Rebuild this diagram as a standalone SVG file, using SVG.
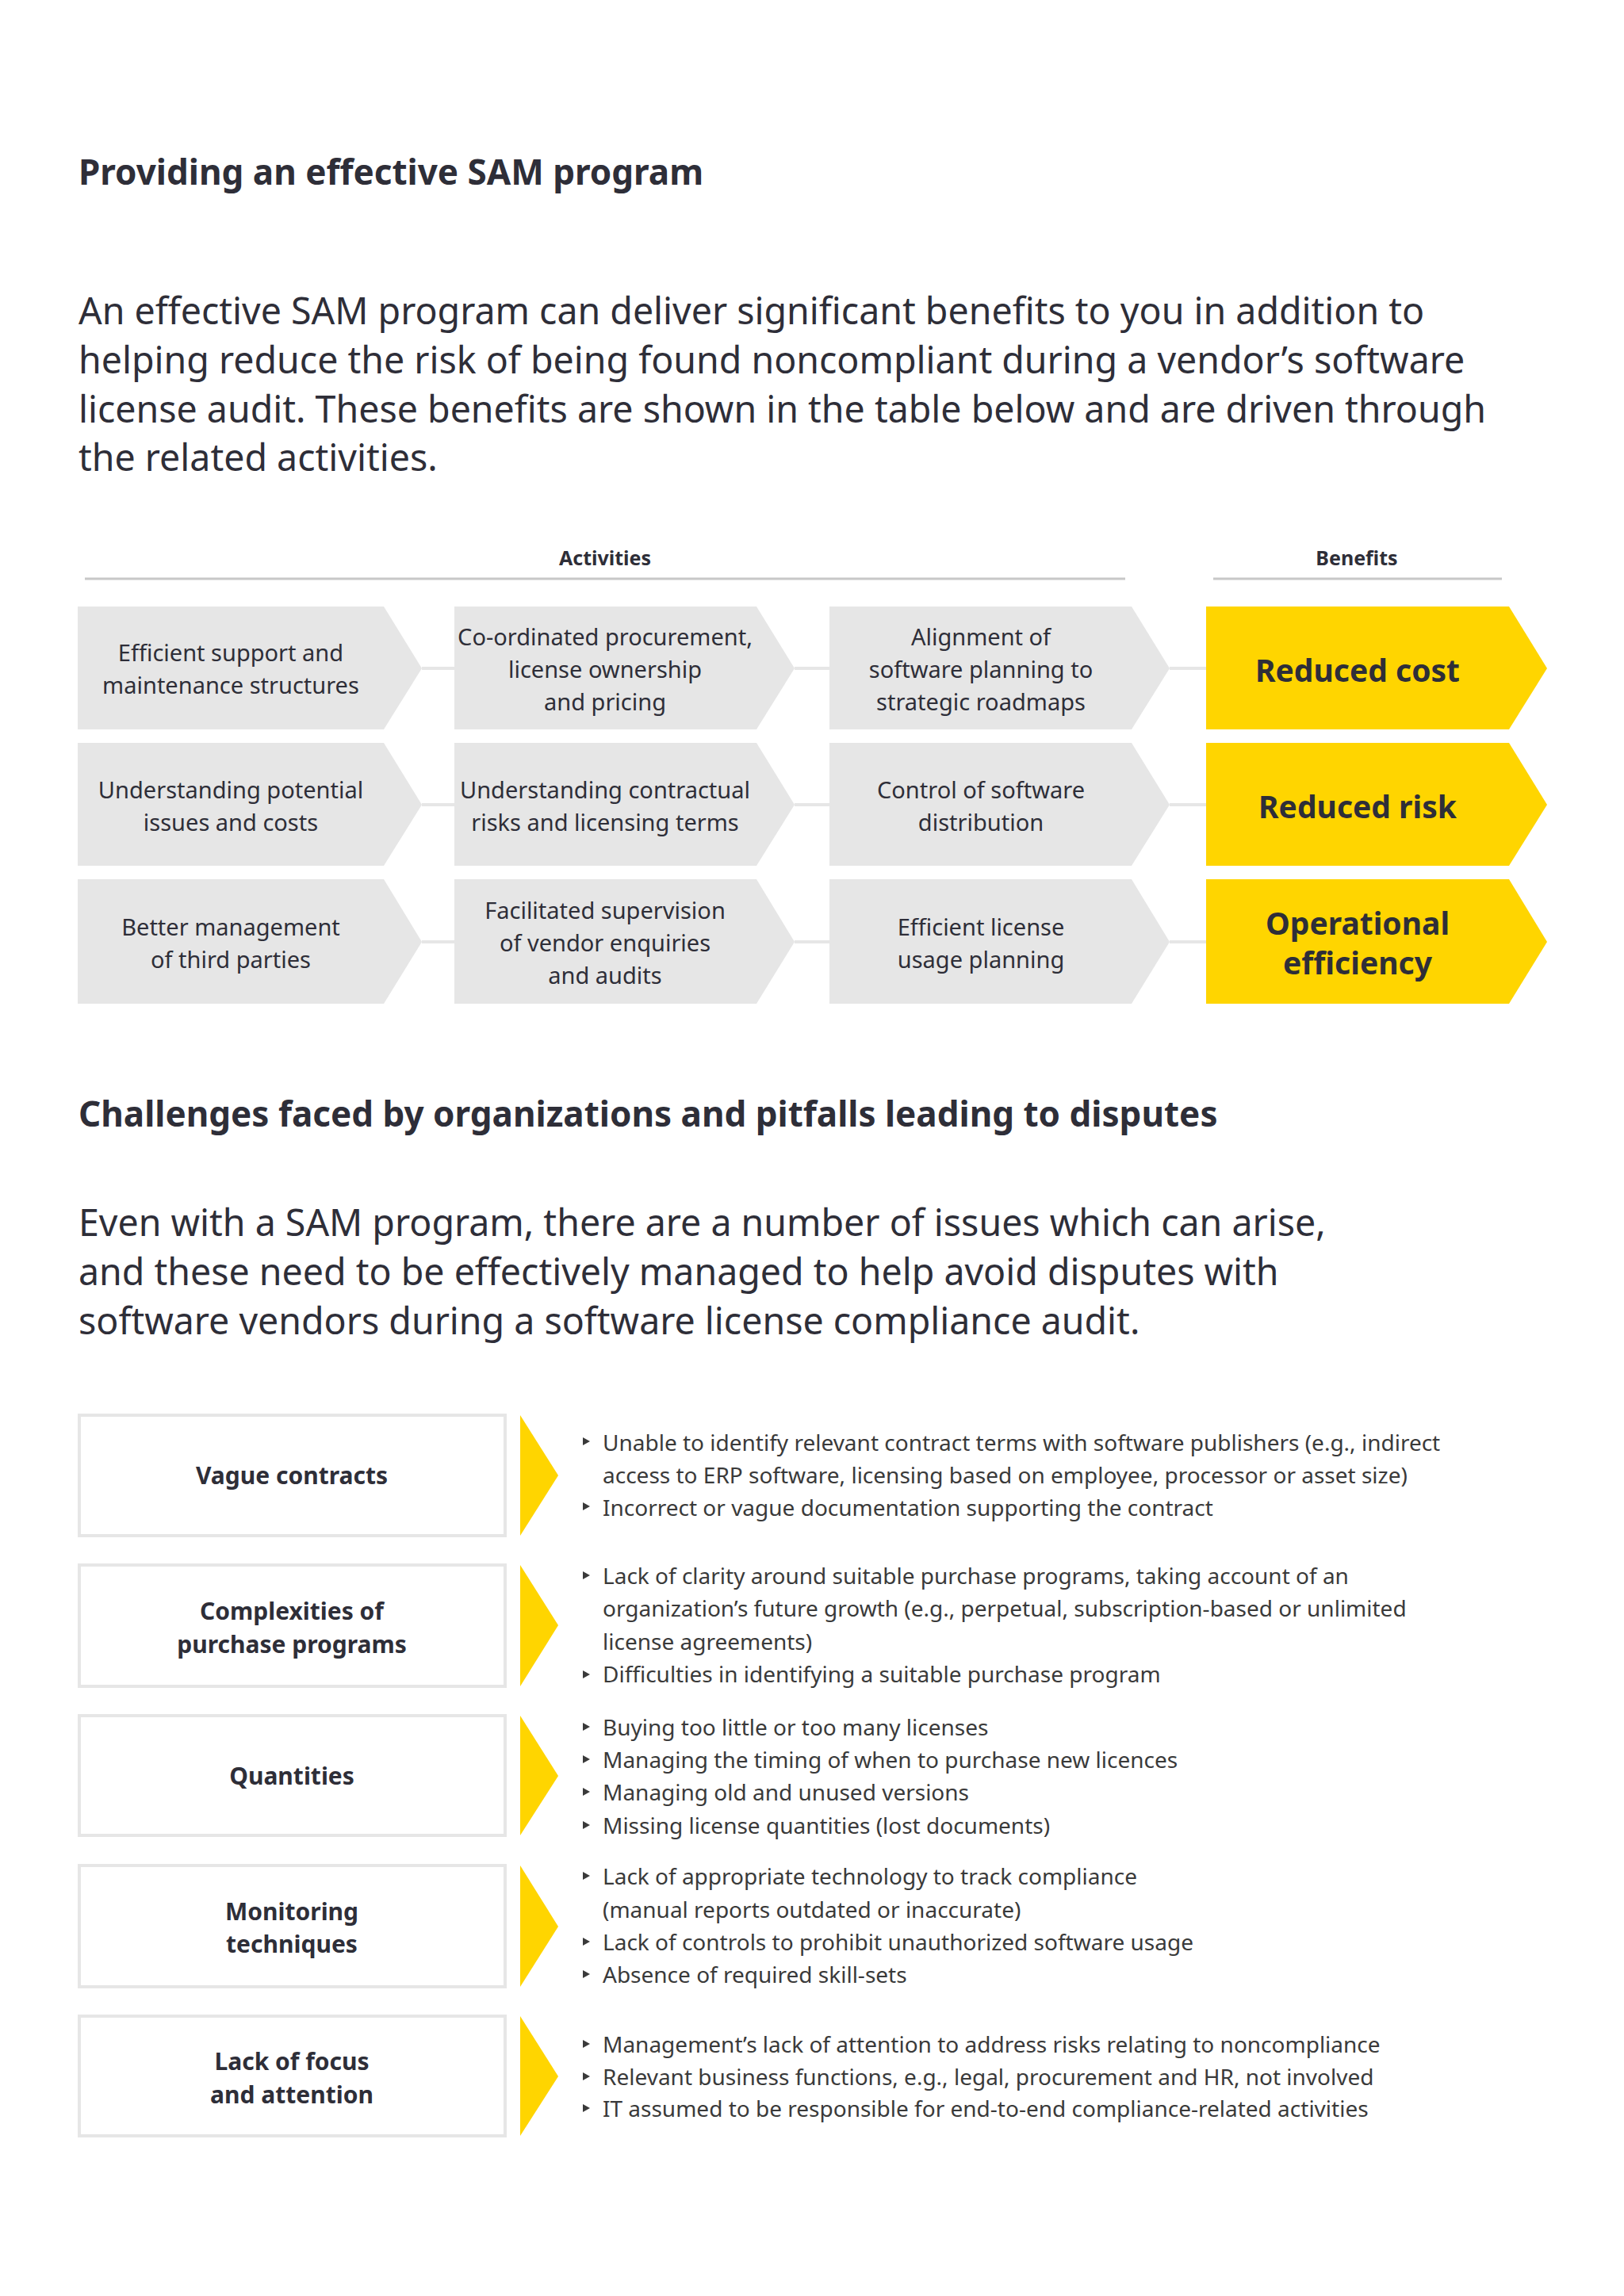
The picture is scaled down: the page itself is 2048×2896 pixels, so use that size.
<svg xmlns="http://www.w3.org/2000/svg" width="2048" height="2896" viewBox="0 0 2048 2896">
<defs>
<style>
text{font-family:"Noto Sans","Liberation Sans",sans-serif;fill:#2e2e38}
.h{font-size:44px;font-weight:bold}
.p{font-size:46.5px}
.hd{font-size:25px;font-weight:bold;text-anchor:middle}
.a{font-size:29px;text-anchor:middle}
.b{font-size:39px;font-weight:bold;text-anchor:middle}
.g{fill:#e6e6e6}
.y{fill:#ffd500}
.bx{fill:#fff;stroke:#e6e6e6;stroke-width:4}
.l{font-size:30px;font-weight:bold;text-anchor:middle}
.t{font-size:28px;fill:#3a3a3a}
.m{fill:#3a3a3a}
</style>
</defs>
<rect width="2048" height="2896" fill="#fff"/>
<text class="h" x="99" y="233">Providing an effective SAM program</text>
<text class="p" x="99" y="409">An effective SAM program can deliver significant benefits to you in addition to</text>
<text class="p" x="99" y="471">helping reduce the risk of being found noncompliant during a vendor’s software</text>
<text class="p" x="99" y="533">license audit. These benefits are shown in the table below and are driven through</text>
<text class="p" x="99" y="594">the related activities.</text>
<text class="hd" x="763" y="713">Activities</text>
<text class="hd" x="1711" y="713">Benefits</text>
<line x1="107" y1="730" x2="1419" y2="730" stroke="#c8c8c8" stroke-width="3"/>
<line x1="1530" y1="730" x2="1894" y2="730" stroke="#c8c8c8" stroke-width="3"/>
<g id="connectors" stroke="#e6e6e6" stroke-width="4">
<line x1="532" y1="843" x2="573" y2="843"/><line x1="1002" y1="843" x2="1046" y2="843"/><line x1="1475" y1="843" x2="1521" y2="843"/>
<line x1="532" y1="1015" x2="573" y2="1015"/><line x1="1002" y1="1015" x2="1046" y2="1015"/><line x1="1475" y1="1015" x2="1521" y2="1015"/>
<line x1="532" y1="1188" x2="573" y2="1188"/><line x1="1002" y1="1188" x2="1046" y2="1188"/><line x1="1475" y1="1188" x2="1521" y2="1188"/>
</g>
<g id="r1c1"><path class="g" d="M98 765H484L532 843L484 920H98Z"/><text class="a" x="291" y="834">Efficient support and</text><text class="a" x="291" y="875">maintenance structures</text></g>
<g id="r1c2"><path class="g" d="M573 765H954L1002 843L954 920H573Z"/><text class="a" x="763" y="814">Co-ordinated procurement,</text><text class="a" x="763" y="855">license ownership</text><text class="a" x="763" y="896">and pricing</text></g>
<g id="r1c3"><path class="g" d="M1046 765H1427L1475 843L1427 920H1046Z"/><text class="a" x="1237" y="814">Alignment of</text><text class="a" x="1237" y="855">software planning to</text><text class="a" x="1237" y="896">strategic roadmaps</text></g>
<g id="r1c4"><path class="y" d="M1521 765H1903L1951 843L1903 920H1521Z"/><text class="b" x="1712" y="860">Reduced cost</text></g>
<g id="r2c1"><path class="g" d="M98 937H484L532 1015L484 1092H98Z"/><text class="a" x="291" y="1007">Understanding potential</text><text class="a" x="291" y="1048">issues and costs</text></g>
<g id="r2c2"><path class="g" d="M573 937H954L1002 1015L954 1092H573Z"/><text class="a" x="763" y="1007">Understanding contractual</text><text class="a" x="763" y="1048">risks and licensing terms</text></g>
<g id="r2c3"><path class="g" d="M1046 937H1427L1475 1015L1427 1092H1046Z"/><text class="a" x="1237" y="1007">Control of software</text><text class="a" x="1237" y="1048">distribution</text></g>
<g id="r2c4"><path class="y" d="M1521 937H1903L1951 1015L1903 1092H1521Z"/><text class="b" x="1712" y="1032">Reduced risk</text></g>
<g id="r3c1"><path class="g" d="M98 1109H484L532 1188L484 1266H98Z"/><text class="a" x="291" y="1180">Better management</text><text class="a" x="291" y="1221">of third parties</text></g>
<g id="r3c2"><path class="g" d="M573 1109H954L1002 1188L954 1266H573Z"/><text class="a" x="763" y="1159">Facilitated supervision</text><text class="a" x="763" y="1200">of vendor enquiries</text><text class="a" x="763" y="1241">and audits</text></g>
<g id="r3c3"><path class="g" d="M1046 1109H1427L1475 1188L1427 1266H1046Z"/><text class="a" x="1237" y="1180">Efficient license</text><text class="a" x="1237" y="1221">usage planning</text></g>
<g id="r3c4"><path class="y" d="M1521 1109H1903L1951 1188L1903 1266H1521Z"/><text class="b" x="1712" y="1179">Operational</text><text class="b" x="1712" y="1229">efficiency</text></g>
<text class="h" x="99" y="1421">Challenges faced by organizations and pitfalls leading to disputes</text>
<text class="p" x="99" y="1559">Even with a SAM program, there are a number of issues which can arise,</text>
<text class="p" x="99" y="1621">and these need to be effectively managed to help avoid disputes with</text>
<text class="p" x="99" y="1683">software vendors during a software license compliance audit.</text>
<g id="c1"><rect class="bx" x="100" y="1785" width="537" height="152"/><text class="l" x="368" y="1872">Vague contracts</text><path class="y" d="M656 1785L704 1861L656 1937Z"/>
<path class="m" d="M735 1813L744 1818L735 1823Z"/><text class="t" x="760" y="1830">Unable to identify relevant contract terms with software publishers (e.g., indirect</text><text class="t" x="760" y="1871">access to ERP software, licensing based on employee, processor or asset size)</text>
<path class="m" d="M735 1895L744 1900L735 1905Z"/><text class="t" x="760" y="1912">Incorrect or vague documentation supporting the contract</text></g>
<g id="c2"><rect class="bx" x="100" y="1974" width="537" height="153"/><text class="l" x="368" y="2043">Complexities of</text><text class="l" x="368" y="2085">purchase programs</text><path class="y" d="M656 1974L704 2050L656 2127Z"/>
<path class="m" d="M735 1982L744 1987L735 1992Z"/><text class="t" x="760" y="1998">Lack of clarity around suitable purchase programs, taking account of an</text><text class="t" x="760" y="2039">organization’s future growth (e.g., perpetual, subscription-based or unlimited</text><text class="t" x="760" y="2081">license agreements)</text>
<path class="m" d="M735 2107L744 2112L735 2117Z"/><text class="t" x="760" y="2122">Difficulties in identifying a suitable purchase program</text></g>
<g id="c3"><rect class="bx" x="100" y="2164" width="537" height="151"/><text class="l" x="368" y="2251">Quantities</text><path class="y" d="M656 2164L704 2240L656 2315Z"/>
<path class="m" d="M735 2173L744 2178L735 2183Z"/><text class="t" x="760" y="2189">Buying too little or too many licenses</text>
<path class="m" d="M735 2214L744 2219L735 2224Z"/><text class="t" x="760" y="2230">Managing the timing of when to purchase new licences</text>
<path class="m" d="M735 2255L744 2260L735 2265Z"/><text class="t" x="760" y="2271">Managing old and unused versions</text>
<path class="m" d="M735 2297L744 2302L735 2307Z"/><text class="t" x="760" y="2313">Missing license quantities (lost documents)</text></g>
<g id="c4"><rect class="bx" x="100" y="2353" width="537" height="153"/><text class="l" x="368" y="2422">Monitoring</text><text class="l" x="368" y="2463">techniques</text><path class="y" d="M656 2353L704 2430L656 2506Z"/>
<path class="m" d="M735 2361L744 2366L735 2371Z"/><text class="t" x="760" y="2377">Lack of appropriate technology to track compliance</text><text class="t" x="760" y="2419">(manual reports outdated or inaccurate)</text>
<path class="m" d="M735 2444L744 2449L735 2454Z"/><text class="t" x="760" y="2460">Lack of controls to prohibit unauthorized software usage</text>
<path class="m" d="M735 2485L744 2490L735 2495Z"/><text class="t" x="760" y="2501">Absence of required skill-sets</text></g>
<g id="c5"><rect class="bx" x="100" y="2543" width="537" height="151"/><text class="l" x="368" y="2611">Lack of focus</text><text class="l" x="368" y="2653">and attention</text><path class="y" d="M656 2543L704 2619L656 2694Z"/>
<path class="m" d="M735 2573L744 2578L735 2583Z"/><text class="t" x="760" y="2589">Management’s lack of attention to address risks relating to noncompliance</text>
<path class="m" d="M735 2614L744 2619L735 2624Z"/><text class="t" x="760" y="2630">Relevant business functions, e.g., legal, procurement and HR, not involved</text>
<path class="m" d="M735 2654L744 2659L735 2664Z"/><text class="t" x="760" y="2670">IT assumed to be responsible for end-to-end compliance-related activities</text></g>
</svg>
